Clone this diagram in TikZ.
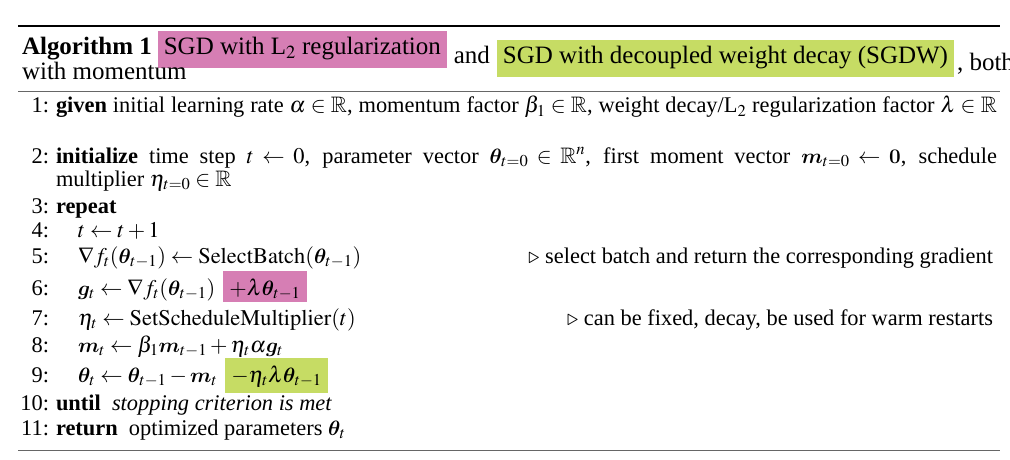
\documentclass[tikz,border=0pt]{standalone}
\usepackage{amsmath,amssymb,bm}
\usepackage{mathptmx}
\usepackage{fontspec}
\setmainfont{Liberation Serif}
\usetikzlibrary{positioning}
\definecolor{pinkc}{RGB}{214,126,180}
\definecolor{greenc}{RGB}{198,220,100}
\begin{document}
\begin{tikzpicture}[x=1pt,y=-1pt,
  every node/.style={inner sep=0pt,outer sep=0pt,font=\fontsize{22.4}{26}\selectfont},
  ttl/.style={font=\fontsize{25}{29}\selectfont},
  ln/.style={anchor=base east},
  tx/.style={anchor=base west},
  hl/.style={inner xsep=6pt,inner ysep=0pt,anchor=base west,text depth=13pt,text height=24pt}]
\useasboundingbox (0,0) rectangle (1010,460);
\draw[line width=1.6pt] (18,26) -- (1000,26);
\node[tx,ttl] (title) at (22,55) {\textbf{Algorithm 1}};
\node[hl,ttl,fill=pinkc,right=6pt of title.base east,anchor=base west] (t1) {SGD with L$_2$ regularization};
\node[tx,ttl,right=7pt of t1.base east] (and) {and};
\node[hl,ttl,fill=greenc,right=7pt of and.base east,anchor=base west] (t2) {SGD with decoupled weight decay (SGDW)};
\node[tx,ttl,right=3pt of t2.base east] (both) {, both};
\node[tx,ttl] (tw) at (22,80) {with momentum};
\draw[line width=1pt,gray!80!black] (18,92) -- (1000,92);
% lines
\node[ln] (n1) at (49,113) {1:};
\node[tx] (l1) at (56,113) {\makebox[941pt][s]{\textbf{given} initial learning rate $\alpha\in\mathbb{R}$, momentum factor $\beta_1\in\mathbb{R}$, weight decay/L$_2$ regularization factor $\lambda\in\mathbb{R}$}};
\node[ln] (n2) at (49,163) {2:};
\node[tx] (l2) at (56,163) {\makebox[941pt][s]{\textbf{initialize} time step $t\leftarrow 0$, parameter vector $\bm{\theta}_{t=0}\in\mathbb{R}^n$, first moment vector $\bm{m}_{t=0}\leftarrow\bm{0}$, schedule}};
\node[tx] (l2b) at (56,186) {multiplier $\eta_{t=0}\in\mathbb{R}$};
\node[ln] (n3) at (49,213) {3:};
\node[tx] (l3) at (56,213) {\textbf{repeat}};
\node[ln] (n4) at (49,237) {4:};
\node[tx] (l4) at (78,237) {$t\leftarrow t+1$};
\node[ln] (n5) at (49,263) {5:};
\node[tx] (l5) at (78,263) {$\nabla f_t(\bm{\theta}_{t-1})\leftarrow \mathrm{SelectBatch}(\bm{\theta}_{t-1})$};
\node[anchor=base east] (c5) at (993,263) {$\triangleright$ select batch and return the corresponding gradient};
\node[ln] (n6) at (49,295) {6:};
\node[tx] (l6) at (78,295) {$\bm{g}_t\leftarrow\nabla f_t(\bm{\theta}_{t-1})$};
\node[hl,fill=pinkc,text height=24pt,text depth=7pt,right=8pt of l6.base east,anchor=base west] (h6) {$+\lambda\bm{\theta}_{t-1}$};
\node[ln] (n7) at (49,325) {7:};
\node[tx] (l7) at (78,325) {$\eta_t\leftarrow\mathrm{SetScheduleMultiplier}(t)$};
\node[anchor=base east] (c7) at (993,325) {$\triangleright$ can be fixed, decay, be used for warm restarts};
\node[ln] (n8) at (49,352) {8:};
\node[tx] (l8) at (78,352) {$\bm{m}_t\leftarrow\beta_1\bm{m}_{t-1}+\eta_t\alpha\bm{g}_t$};
\node[ln] (n9) at (49,382) {9:};
\node[tx] (l9) at (78,382) {$\bm{\theta}_t\leftarrow\bm{\theta}_{t-1}-\bm{m}_t$};
\node[hl,fill=greenc,text height=24pt,text depth=11pt,right=8pt of l9.base east,anchor=base west] (h9) {$-\eta_t\lambda\bm{\theta}_{t-1}$};
\node[ln] (n10) at (49,410) {10:};
\node[tx] (l10) at (56,410) {\textbf{until} \ \textit{stopping criterion is met}};
\node[ln] (n11) at (49,435) {11:};
\node[tx] (l11) at (56,435) {\textbf{return} \ optimized parameters $\bm{\theta}_t$};
\draw[line width=1pt,gray!80!black] (18,450) -- (1000,450);
\end{tikzpicture}
\end{document}
